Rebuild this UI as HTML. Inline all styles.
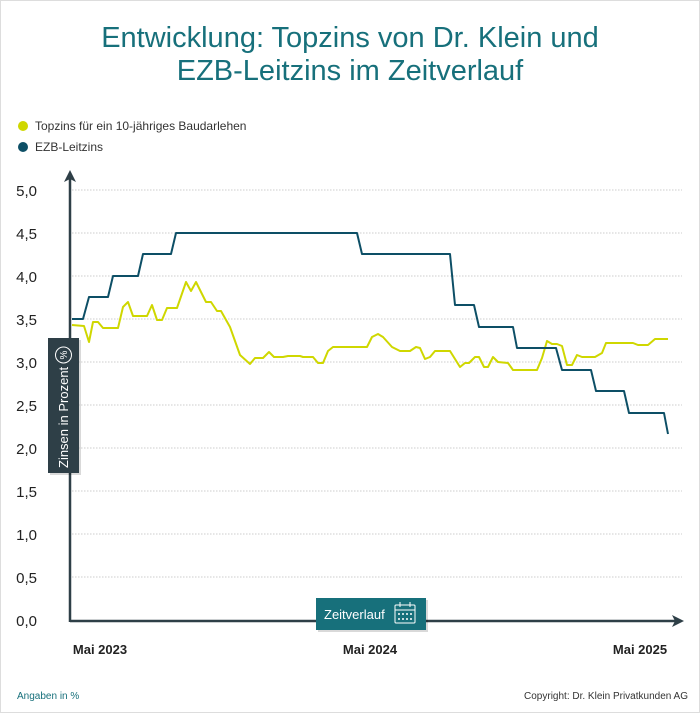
<!DOCTYPE html>
<html><head><meta charset="utf-8"><style>
html,body{margin:0;padding:0;background:#fff}
body{width:700px;height:713px;position:relative;overflow:hidden;font-family:"Liberation Sans",sans-serif}
.t{position:absolute;left:0;width:700px;text-align:center;color:#17707b;font-size:29px;line-height:33px}
</style></head><body>
<div style="position:absolute;inset:0;border:1px solid #ddd;box-sizing:border-box"></div>
<div class="t" style="top:22px">Entwicklung: Topzins von Dr. Klein und<br>EZB-Leitzins im Zeitverlauf</div>
<svg width="700" height="713" style="position:absolute;left:0;top:0" font-family="Liberation Sans, sans-serif">
<circle cx="23" cy="126" r="5" fill="#cfd700"/><text x="35" y="130" font-size="12" fill="#333">Topzins für ein 10-jähriges Baudarlehen</text>
<circle cx="23" cy="147" r="5" fill="#0d4f66"/><text x="35" y="151" font-size="12" fill="#333">EZB-Leitzins</text>
<g stroke="#ccc" stroke-dasharray="1.5 1.5" stroke-width="1">
<line x1="72" x2="682" y1="190" y2="190"/><line x1="72" x2="682" y1="233" y2="233"/><line x1="72" x2="682" y1="276" y2="276"/><line x1="72" x2="682" y1="319" y2="319"/><line x1="72" x2="682" y1="362" y2="362"/><line x1="72" x2="682" y1="405" y2="405"/><line x1="72" x2="682" y1="448" y2="448"/><line x1="72" x2="682" y1="491" y2="491"/><line x1="72" x2="682" y1="534" y2="534"/><line x1="72" x2="682" y1="577" y2="577"/>
</g>
<g font-size="15" fill="#222" text-anchor="end">
<text x="37" y="196">5,0</text><text x="37" y="239">4,5</text><text x="37" y="282">4,0</text><text x="37" y="325">3,5</text><text x="37" y="368">3,0</text><text x="37" y="411">2,5</text><text x="37" y="454">2,0</text><text x="37" y="497">1,5</text><text x="37" y="540">1,0</text><text x="37" y="583">0,5</text><text x="37" y="626">0,0</text>
</g>
<line x1="70" y1="178" x2="70" y2="622" stroke="#2e3f47" stroke-width="2.5"/>
<path d="M64,182 L70,170 L76,182 L70,179Z" fill="#2e3f47"/>
<line x1="70" y1="621" x2="676" y2="621" stroke="#2e3f47" stroke-width="2.5"/>
<path d="M672,615 L684,621 L672,627 L675,621Z" fill="#2e3f47"/>
<polyline fill="none" stroke="#cfd700" stroke-width="2" stroke-linejoin="round" points="72,325 84,326 89,342 93,322 98,322 103,328 118,328 123,307 128,302 133,316 147,316 152,305 157,320 162,320 167,308 177,308 186,282 191,291 196,282 206,302 211,302 217,311 221,311 230,327 240,355 250,364 255,358 263,358 269,352 274,357 283,357 288,356 300,356 303,357 313,357 318,363 323,363 328,351 333,347 367,347 372,337 378,334 383,337 392,347 400,351 410,351 416,347 420,348 425,359 430,357 435,351 450,351 460,367 465,363 469,363 475,357 479,357 484,367 488,367 493,357 498,362 508,363 513,370 537,370 542,358 547,341 552,344 557,344 562,346 567,365 572,365 577,355 582,357 595,357 602,353 606,343 633,343 638,345 648,345 655,339 668,339"/>
<polyline fill="none" stroke="#0d4f66" stroke-width="2" stroke-linejoin="round" points="72,319 83,319 89,297 108,297 113,276 138,276 143,254 171,254 176,233 357,233 362,254 450,254 455,305 474,305 479,327 513,327 517,348 556,348 562,370 591,370 596,391 624,391 629,413 664,413 668,434"/>
<rect x="50" y="340" width="31" height="135" fill="#000" opacity="0.15"/>
<rect x="48" y="338" width="31" height="135" fill="#2e3f47"/>
<circle cx="63.5" cy="355" r="8" fill="none" stroke="#fff" stroke-width="1"/>
<text x="63.5" y="355" font-size="10" fill="#fff" text-anchor="middle" transform="rotate(-90 63.5 355)" dy="3.5">%</text>
<text x="68" y="468" font-size="13" fill="#fff" transform="rotate(-90 68 468)">Zinsen in Prozent</text>
<rect x="318" y="600" width="110" height="32" fill="#000" opacity="0.15"/>
<rect x="316" y="598" width="110" height="32" fill="#17707b"/>
<text x="324" y="619" font-size="13" fill="#fff">Zeitverlauf</text>
<g stroke="#fff" fill="none" stroke-width="1"><rect x="395" y="605" width="20" height="18" rx="1"/><line x1="395" y1="610" x2="415" y2="610"/><line x1="400" y1="602" x2="400" y2="607"/><line x1="410" y1="602" x2="410" y2="607"/></g>
<g fill="#fff"><circle cx="399" cy="614" r="1"/><circle cx="403" cy="614" r="1"/><circle cx="407" cy="614" r="1"/><circle cx="411" cy="614" r="1"/><circle cx="399" cy="619" r="1"/><circle cx="403" cy="619" r="1"/><circle cx="407" cy="619" r="1"/><circle cx="411" cy="619" r="1"/></g>
<g font-size="13" font-weight="bold" fill="#222" text-anchor="middle">
<text x="100" y="654">Mai 2023</text><text x="370" y="654">Mai 2024</text><text x="640" y="654">Mai 2025</text>
</g>
<text x="17" y="699" font-size="10" fill="#17707b">Angaben in %</text>
<text x="688" y="699" font-size="10" fill="#333" text-anchor="end">Copyright: Dr. Klein Privatkunden AG</text>
</svg>
</body></html>
